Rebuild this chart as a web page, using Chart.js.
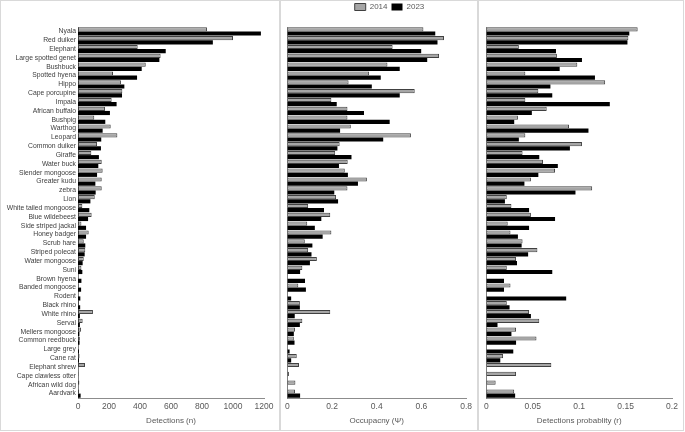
<!DOCTYPE html>
<html>
<head>
<meta charset="utf-8">
<title>Detections, occupancy and detection probability</title>
<script src="https://cdn.jsdelivr.net/npm/chart.js@4.4.1/dist/chart.umd.min.js"></script>
<style>
  body { margin: 0; background: #fff; width: 685px; height: 432px; overflow: hidden; position: relative; }
  .panel { position: absolute; top: 0; height: 431px; border: 1px solid #d9d9d9; box-sizing: border-box; }
  canvas { position: absolute; top: 1px; }
</style>
</head>
<body>
<div class="panel" style="left:0;width:280px"></div>
<div class="panel" style="left:280px;width:198px"></div>
<div class="panel" style="left:478px;width:206px"></div>
<canvas id="detChart" style="left:1px" width="277" height="429"></canvas>
<canvas id="occChart" style="left:281px" width="195" height="429"></canvas>
<canvas id="probChart" style="left:480px" width="203" height="429"></canvas>

<script>
// species, top to bottom
const species = [
  'Nyala', 'Red duiker', 'Elephant', 'Large spotted genet', 'Bushbuck', 'Spotted hyena',
  'Hippo', 'Cape porcupine', 'Impala', 'African buffalo', 'Bushpig', 'Warthog', 'Leopard',
  'Common duiker', 'Giraffe', 'Water buck', 'Slender mongoose', 'Greater kudu', 'zebra', 'Lion',
  'White tailed mongoose', 'Blue wildebeest', 'Side striped jackal', 'Honey badger', 'Scrub hare',
  'Striped polecat', 'Water mongoose', 'Suni', 'Brown hyena', 'Banded mongoose', 'Rodent',
  'Black rhino', 'White rhino', 'Serval', 'Mellers mongoose', 'Common reedbuck', 'Large grey',
  'Cane rat', 'Elephant shrew', 'Cape clawless otter', 'African wild dog', 'Aardvark'
];
const years = ['2014', '2023'];

// detections (n)
const detections2014 = [832, 1000, 385, 533, 437, 226, 277, 286, 217, 174, 105, 211, 254, 123, 86, 153,
  159, 153, 153, 108, 28, 88, 22, 69, 37, 47, 37, 22, 0, 4, 0, 6, 96, 30, 20, 12, 0, 10, 45, 3, 9, 8];
const detections2023 = [1180, 870, 566, 525, 411, 381, 299, 284, 249, 206, 176, 159, 150, 148, 135, 131,
  123, 112, 114, 80, 73, 65, 52, 52, 47, 43, 30, 28, 22, 20, 15, 14, 12, 12, 9, 10, 6, 6, 0, 0, 0, 17];

// occupancy (psi)
const occupancy2014 = [0.609, 0.701, 0.471, 0.679, 0.448, 0.366, 0.274, 0.570, 0.197, 0.269, 0.269, 0.284,
  0.553, 0.234, 0.214, 0.270, 0.257, 0.356, 0.269, 0.218, 0.093, 0.192, 0.089, 0.197, 0.078, 0.093, 0.132,
  0.067, 0, 0.049, 0, 0.056, 0.192, 0.067, 0.034, 0.029, 0, 0.042, 0.052, 0.007, 0.036, 0.034];
const occupancy2023 = [0.662, 0.672, 0.599, 0.626, 0.503, 0.418, 0.378, 0.503, 0.221, 0.343, 0.458, 0.236,
  0.429, 0.224, 0.287, 0.231, 0.271, 0.316, 0.210, 0.227, 0.164, 0.152, 0.123, 0.158, 0.112, 0.108, 0.101,
  0.057, 0.079, 0.083, 0.017, 0.056, 0.033, 0.056, 0.029, 0.032, 0.010, 0.017, 0, 0, 0, 0.057];

// detection probability (r)
const probability2014 = [0.163, 0.153, 0.035, 0.076, 0.098, 0.042, 0.128, 0.056, 0.042, 0.065, 0.034, 0.089,
  0.042, 0.103, 0.039, 0.061, 0.074, 0.048, 0.114, 0.022, 0.027, 0.048, 0.023, 0.026, 0.039, 0.055, 0.032,
  0.022, 0, 0.026, 0, 0.022, 0.046, 0.057, 0.032, 0.054, 0, 0.018, 0.070, 0.032, 0.010, 0.030];
const probability2023 = [0.154, 0.152, 0.075, 0.103, 0.079, 0.117, 0.069, 0.071, 0.133, 0.049, 0.030, 0.110,
  0.035, 0.090, 0.057, 0.077, 0.056, 0.041, 0.096, 0.020, 0.046, 0.074, 0.046, 0.034, 0.038, 0.045, 0.033,
  0.071, 0.019, 0.019, 0.086, 0.025, 0.048, 0.012, 0.027, 0.032, 0.029, 0.015, 0, 0, 0, 0.031];

Chart.defaults.font.family = "'Liberation Sans', Arial, sans-serif";
Chart.defaults.font.size = 8;
Chart.defaults.color = '#595959';

// the legend sits close to the top edge and a bit right of centre
const nudgeLegend = {
  id: 'nudgeLegend',
  afterLayout(chart) {
    if (chart.legend && chart.options.plugins.legend.display) {
      chart.legend.top -= 6;
      chart.legend.bottom -= 6;
      chart.legend.left += 15;
      chart.legend.right += 15;
    }
  }
};

function makeChart(id, data2014, data2023, cfg) {
  return new Chart(document.getElementById(id), {
    type: 'bar',
    data: {
      labels: species,
      datasets: [
        { label: years[0], data: data2014, backgroundColor: '#a6a6a6', borderColor: '#404040', borderWidth: 1, borderSkipped: false },
        { label: years[1], data: data2023, backgroundColor: '#000000', borderColor: '#000000', borderWidth: 0 }
      ]
    },
    options: {
      indexAxis: 'y',
      responsive: false,
      animation: false,
      datasets: { bar: { categoryPercentage: 0.94, barPercentage: 1.0 } },
      layout: { padding: { top: cfg.legend ? 0 : 26, right: cfg.padRight, bottom: 0, left: 0 } },
      plugins: {
        legend: {
          display: !!cfg.legend,
          position: 'top',
          labels: { boxWidth: 11, boxHeight: 7, padding: 4, font: { size: 8 } }
        },
        tooltip: { enabled: false }
      },
      scales: {
        x: {
          min: 0,
          max: cfg.max,
          grid: { display: false, drawTicks: false },
          border: { display: true, color: '#8c8c8c' },
          ticks: {
            stepSize: cfg.step,
            padding: 4,
            font: { size: 8.5 },
            callback: v => String(Math.round(v * 1000) / 1000)
          },
          title: { display: true, text: cfg.title, font: { size: 8 }, padding: { top: 0, bottom: 4 } },
          afterFit: scale => { scale.height = 32; }
        },
        y: {
          grid: { display: false, drawTicks: false },
          border: { display: true, color: '#7f7f7f' },
          ticks: { display: cfg.showLabels, autoSkip: false, padding: 2, color: '#404040', font: { size: 6.8 } },
          afterFit: scale => { scale.width = cfg.yWidth; }
        }
      }
    },
    plugins: [nudgeLegend]
  });
}

document.addEventListener('DOMContentLoaded', function() {
  const detChart = makeChart('detChart', detections2014, detections2023,
    { max: 1200, step: 200, title: 'Detections (n)', showLabels: true, yWidth: 77, padRight: 14 });
  const occChart = makeChart('occChart', occupancy2014, occupancy2023,
    { max: 0.8, step: 0.2, title: 'Occupacny (\u03A8)', showLabels: false, yWidth: 2, padRight: 8, legend: true });
  const probChart = makeChart('probChart', probability2014, probability2023,
    { max: 0.2, step: 0.05, title: 'Detections probablity (r)', showLabels: false, yWidth: 5, padRight: 11 });

  // line the middle plot up with the other two (legend takes room at the top)
  const extra = 26 - occChart.chartArea.top;
  if (extra > 0) {
    occChart.options.layout.padding.top = extra;
    occChart.update();
  } else if (extra < 0) {
    [detChart, probChart].forEach(c => {
      c.options.layout.padding.top = occChart.chartArea.top;
      c.update();
    });
  }
});
</script>
</body>
</html>
